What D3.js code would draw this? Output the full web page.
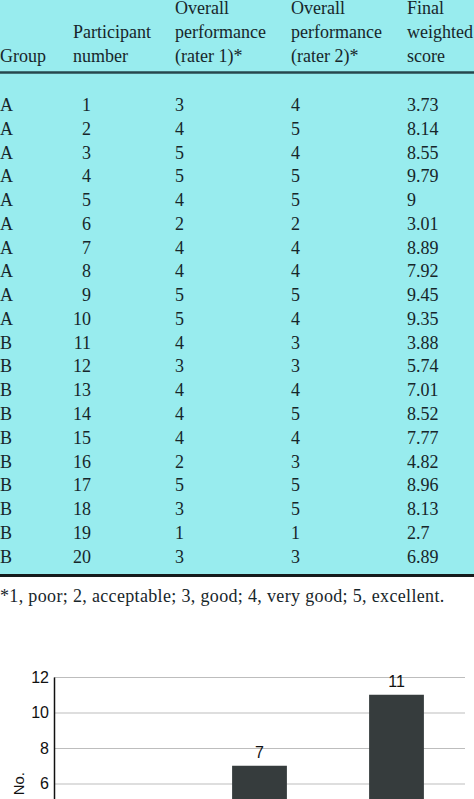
<!DOCTYPE html>
<html>
<head>
<meta charset="utf-8">
<script src="https://cdn.jsdelivr.net/npm/d3@7"></script>
<style>
  body { margin: 0; background: #fff; }
  svg { display: block; }
</style>
</head>
<body>
<div id="chart"></div>
<script>
// table values
const groups = ['A','A','A','A','A','A','A','A','A','A','B','B','B','B','B','B','B','B','B','B']
const participants = [1,2,3,4,5,6,7,8,9,10,11,12,13,14,15,16,17,18,19,20]
const rater1 = [3,4,5,5,4,2,4,4,5,5,4,3,4,4,4,2,5,3,1,3]
const rater2 = [4,5,4,5,5,2,4,4,5,4,3,3,4,5,4,3,5,5,1,3]
const finalScore = ['3.73','8.14','8.55','9.79','9','3.01','8.89','7.92','9.45','9.35','3.88','5.74','7.01','8.52','7.77','4.82','8.96','8.13','2.7','6.89']

const headers = [
  ['Group'],
  ['Participant', 'number'],
  ['Overall', 'performance', '(rater 1)*'],
  ['Overall', 'performance', '(rater 2)*'],
  ['Final', 'weighted', 'score'],
]
const footnote = '*1, poor; 2, acceptable; 3, good; 4, very good; 5, excellent.'

// bar chart values (first bar sits below the visible area)
const barCategories = ['Low', 'Medium', 'High']
const barValues = [2, 7, 11]
const yTicks = [0, 2, 4, 6, 8, 10, 12]

const W = 474, H = 799
const textColor = '#17262a'
const serif = '"Liberation Serif", "DejaVu Serif", serif'
const sans = '"Liberation Sans", Arial, sans-serif'

const svg = d3.select('#chart').append('svg')
  .attr('width', W)
  .attr('height', H)

// ---- table ----
const tableBottom = 575.5
svg.append('rect')
  .attr('x', 0).attr('y', 0)
  .attr('width', W).attr('height', tableBottom)
  .attr('fill', '#98ecee')

const colX = [0, 91, 175, 291, 407]
const headX = [0, 73, 175, 291, 407]

// header lines are bottom aligned
const headerLine = d3.scaleLinear().domain([0, 2]).range([14, 61.5])
headers.forEach((lines, c) => {
  const off = 3 - lines.length
  svg.append('g').selectAll('text')
    .data(lines)
    .enter().append('text')
    .attr('x', headX[c])
    .attr('y', (d, i) => headerLine(i + off))
    .attr('font-family', serif)
    .attr('font-size', 18)
    .attr('fill', textColor)
    .text(d => d)
})

svg.append('line')
  .attr('x1', 0).attr('x2', W)
  .attr('y1', 72.5).attr('y2', 72.5)
  .attr('stroke', '#27474d')
  .attr('stroke-width', 2.5)

const rowY = d3.scaleLinear()
  .domain([0, participants.length - 1])
  .range([111, 562.6])

const rows = participants.map((p, i) => [groups[i], p, rater1[i], rater2[i], finalScore[i]])
const rowG = svg.append('g').selectAll('g')
  .data(rows)
  .enter().append('g')
  .attr('transform', (d, i) => 'translate(0,' + rowY(i) + ')')

rowG.selectAll('text')
  .data(d => d)
  .enter().append('text')
  .attr('x', (d, c) => colX[c])
  .attr('text-anchor', (d, c) => c === 1 ? 'end' : 'start')
  .attr('font-family', serif)
  .attr('font-size', 18)
  .attr('fill', textColor)
  .text(d => d)

svg.append('line')
  .attr('x1', 0).attr('x2', W)
  .attr('y1', tableBottom).attr('y2', tableBottom)
  .attr('stroke', '#151b1c')
  .attr('stroke-width', 3)

svg.append('text')
  .attr('x', 0)
  .attr('y', 602)
  .attr('font-family', serif)
  .attr('font-size', 18)
  .attr('letter-spacing', 0.34)
  .attr('fill', textColor)
  .text(footnote)

// ---- bar chart ----
const plotLeft = 54, plotRight = 465

const xScale = d3.scaleBand()
  .domain(barCategories)
  .range([plotLeft, plotRight])
  .paddingInner(0.6)
  .paddingOuter(0.3)

const yScale = d3.scaleLinear()
  .domain([0, 12])
  .range([890, 677])

//Grid line
svg.append('g')
  .attr('transform', 'translate(' + plotLeft + ',0)')
  .call(d3.axisLeft(yScale).tickValues(yTicks)
    .tickSize(-(plotRight - plotLeft))
    .tickFormat('').tickSizeOuter(0))
  .call(g => g.select('.domain').remove())
  .call(g => g.selectAll('line').attr('stroke', '#bdbdbd').attr('stroke-width', 1))

svg.append('g').selectAll('rect')
  .data(barValues)
  .enter().append('rect')
  .attr('x', (d, i) => xScale(barCategories[i]))
  .attr('y', d => yScale(d))
  .attr('width', xScale.bandwidth())
  .attr('height', d => yScale(0) - yScale(d))
  .attr('fill', '#363c3d')

svg.append('g').selectAll('text')
  .data(barValues)
  .enter().append('text')
  .attr('x', (d, i) => xScale(barCategories[i]) + xScale.bandwidth() / 2)
  .attr('y', d => yScale(d) - 8)
  .attr('text-anchor', 'middle')
  .attr('font-family', sans)
  .attr('font-size', 16)
  .attr('fill', '#111')
  .text(d => d)

const yAxis = svg.append('g')
  .attr('transform', 'translate(' + plotLeft + ',0)')
  .call(d3.axisLeft(yScale).tickValues(yTicks).tickSize(0).tickPadding(5).tickSizeOuter(0))
yAxis.select('.domain').attr('stroke', '#111').attr('stroke-width', 1.5)
yAxis.selectAll('text')
  .attr('font-family', sans)
  .attr('font-size', 16)
  .attr('fill', '#111')

svg.append('text')
  .attr('transform', 'translate(24,772) rotate(-90)')
  .attr('text-anchor', 'end')
  .attr('font-family', sans)
  .attr('font-size', 15)
  .attr('fill', '#111')
  .text('No.')
</script>
</body>
</html>
